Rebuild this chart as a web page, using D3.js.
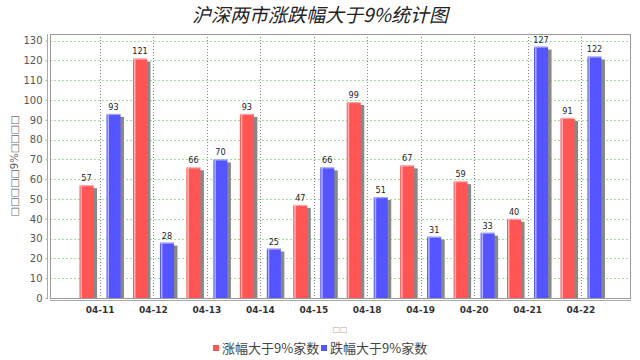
<!DOCTYPE html>
<html><head><meta charset="utf-8">
<script src="https://cdn.jsdelivr.net/npm/d3@7/dist/d3.min.js"></script>
<style>
html,body{margin:0;padding:0;background:#fff;}
svg{display:block;}
</style></head>
<body>
<script>
const categories = ["04-11","04-12","04-13","04-14","04-15","04-18","04-19","04-20","04-21","04-22"];
const riseCounts = [57,121,66,93,47,99,67,59,40,91];
const fallCounts = [93,28,70,25,66,51,31,33,127,122];
const seriesNames = ["涨幅大于9%家数","跌幅大于9%家数"];
const seriesColors = ["#FF5555","#5555FF"];
const yTicks = [0,10,20,30,40,50,60,70,80,90,100,110,120,130];
const titleText = "沪深两市涨跌幅大于9%统计图";
const yLabel = "□□□□□9%□□□□";
const xLabel = "□□";

const W = 640, H = 360;
const plot = {l:50, t:34, r:631, b:298};

const svg = d3.select("body").append("svg").attr("width",W).attr("height",H);

svg.append("text").attr("x",320).attr("y",22.2).attr("text-anchor","middle")
  .attr("font-family","'Noto Sans CJK SC'").attr("font-style","italic")
  .attr("font-size",19).attr("fill","#222").text(titleText);

const x0 = d3.scaleBand().domain(categories).range([plot.l+23.3, plot.r-23.3]).padding(0);
const x1 = d3.scaleBand().domain([0,1]).range([0, x0.bandwidth()]).paddingInner(0.48).paddingOuter(0.23);
const y = d3.scaleLinear().domain([0, 133.35]).range([plot.b, plot.t]);

svg.append("defs").append("clipPath").attr("id","pc").append("rect")
  .attr("x",plot.l).attr("y",plot.t).attr("width",plot.r-plot.l).attr("height",plot.b-plot.t);

svg.append("g").selectAll("line").data(yTicks.filter(d=>d>0)).join("line")
  .attr("x1",plot.l).attr("x2",plot.r)
  .attr("y1",d=>Math.round(y(d))+0.5).attr("y2",d=>Math.round(y(d))+0.5)
  .attr("stroke","#9be39b").attr("stroke-dasharray","2,2").attr("stroke-width",1);

svg.append("g").selectAll("line").data(categories).join("line")
  .attr("x1",d=>Math.round(x0(d)+x0.bandwidth()/2)+0.5).attr("x2",d=>Math.round(x0(d)+x0.bandwidth()/2)+0.5)
  .attr("y1",plot.t).attr("y2",plot.b)
  .attr("stroke","#888").attr("stroke-dasharray","1,2").attr("stroke-width",1);

const data = [];
categories.forEach((c,i)=>{
  data.push({c, s:0, v:riseCounts[i]});
  data.push({c, s:1, v:fallCounts[i]});
});
const gb = svg.append("g").attr("clip-path","url(#pc)");
const bx = d=>x0(d.c)+x1(d.s);
const bw = x1.bandwidth();
gb.selectAll("rect.sh").data(data).join("rect").attr("class","sh")
  .attr("x",d=>bx(d)+3.5).attr("y",d=>y(d.v)+3).attr("width",bw).attr("height",d=>plot.b-y(d.v))
  .attr("fill","#888");
gb.selectAll("rect.bar").data(data).join("rect").attr("class","bar")
  .attr("x",bx).attr("y",d=>y(d.v)).attr("width",bw).attr("height",d=>plot.b-y(d.v))
  .attr("fill",d=>seriesColors[d.s]);
gb.selectAll("rect.hl").data(data).join("rect").attr("class","hl")
  .attr("x",d=>bx(d)+1).attr("y",d=>y(d.v)+1).attr("width",1.5).attr("height",d=>plot.b-y(d.v)-1)
  .attr("fill","#fff").attr("opacity",0.55);
gb.selectAll("rect.ht").data(data).join("rect").attr("class","ht")
  .attr("x",d=>bx(d)).attr("y",d=>y(d.v)).attr("width",bw).attr("height",1.2)
  .attr("fill","#fff").attr("opacity",0.45);

svg.append("g").selectAll("text").data(data).join("text")
  .attr("x",d=>bx(d)+bw/2).attr("y",d=>y(d.v)-4).attr("text-anchor","middle")
  .attr("font-family","'Liberation Sans Narrow','DejaVu Sans Condensed',sans-serif")
  .attr("font-size",9).attr("fill","#222").text(d=>d.v);

svg.append("rect").attr("x",plot.l+0.5).attr("y",plot.t+0.5)
  .attr("width",plot.r-plot.l-1).attr("height",plot.b-plot.t)
  .attr("fill","none").attr("stroke","#999");

svg.append("line").attr("x1",47.5).attr("x2",47.5).attr("y1",plot.t).attr("y2",plot.b+1).attr("stroke","#aaa");
svg.append("line").attr("x1",plot.l).attr("x2",plot.r).attr("y1",300.5).attr("y2",300.5).attr("stroke","#aaa");

const ya = d3.axisLeft(y).tickValues(yTicks).tickSize(2).tickPadding(3);
const gy = svg.append("g").attr("transform","translate(47.5,0)").call(ya);
gy.select(".domain").remove();
gy.selectAll("line").attr("stroke","#aaa");
gy.selectAll("text").attr("font-family","'DejaVu Sans'").attr("font-size",10).attr("fill","#555");

const xa = d3.axisBottom(x0).tickSize(0).tickPadding(7);
const gx = svg.append("g").attr("transform","translate(0,300)").call(xa);
gx.select(".domain").remove();
gx.selectAll("text").attr("font-family","'DejaVu Sans'").attr("font-size",9).attr("fill","#333").attr("font-weight","bold");

svg.append("text").attr("transform",`translate(18,${(plot.t+plot.b)/2}) rotate(-90)`)
  .attr("text-anchor","middle").attr("font-family","'DejaVu Sans'").attr("font-size",10)
  .attr("fill","#666").text(yLabel);
svg.append("text").attr("x",340).attr("y",332).attr("text-anchor","middle")
  .attr("font-family","'DejaVu Sans'").attr("font-size",8).attr("fill","#aaa").text(xLabel);

const lg = svg.append("g");
const lx = [213, 321];
seriesNames.forEach((n,i)=>{
  lg.append("rect").attr("x",lx[i]).attr("y",345).attr("width",6).attr("height",6).attr("fill",seriesColors[i]);
  lg.append("text").attr("x",lx[i]+9).attr("y",353).attr("font-family","'Noto Sans CJK SC'")
    .attr("font-size",13).attr("fill","#444").text(n);
});
</script>
</body></html>
